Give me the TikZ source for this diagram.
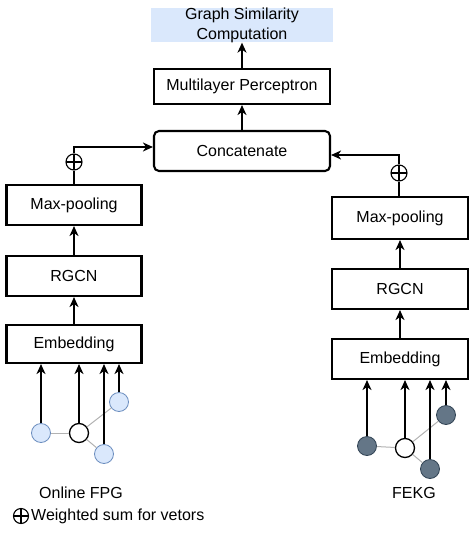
\documentclass[tikz,border=0pt]{standalone}
\usepackage{fontspec}
\setmainfont{Liberation Sans}
\usetikzlibrary{arrows.meta}
\definecolor{lblue}{HTML}{DAE8FC}
\definecolor{bblue}{HTML}{6C8EBF}
\definecolor{dslate}{HTML}{647687}
\definecolor{dslateb}{HTML}{314354}
\tikzset{
  blk/.style={draw, line width=2.1pt, font=\fontsize{16}{18}\selectfont, inner sep=0pt},
  conn/.style={line width=1.4pt, -{Stealth[length=10pt,width=9pt,inset=3pt]}},
  plainline/.style={line width=1.4pt},
  osum/.style={circle, draw, line width=1.1pt, minimum size=16pt, inner sep=0pt,
    path picture={\draw[line width=1.1pt] (path picture bounding box.north) -- (path picture bounding box.south)
      (path picture bounding box.west) -- (path picture bounding box.east);}},
  bnode/.style={circle, draw=bblue, fill=lblue, line width=0.8pt, minimum size=19pt, inner sep=0pt},
  dnode/.style={circle, draw=dslateb, fill=dslate, line width=0.8pt, minimum size=19pt, inner sep=0pt},
  wnode/.style={circle, draw=black, fill=white, line width=1.3pt, minimum size=19pt, inner sep=0pt},
  gedge/.style={draw=black!30, line width=1pt},
  lbl/.style={font=\fontsize{16}{18}\selectfont, inner sep=0pt},
}
\begin{document}
\begin{tikzpicture}[x=1pt,y=-1pt]
\useasboundingbox (0,0) rectangle (474,541);
% top
\node[fill=lblue, minimum width=182pt, minimum height=34pt, inner sep=0pt, align=center, font=\fontsize{16}{20}\selectfont] (gsc) at (242,25) {Graph Similarity\\Computation};
\node[blk, minimum width=176pt, minimum height=35pt] (mlp) at (242,86.5) {Multilayer Perceptron};
\node[blk, rounded corners=5pt, minimum width=176pt, minimum height=40pt] (cat) at (242,151) {Concatenate};
\draw[conn] (mlp.north) -- (gsc.south);
\draw[conn] (cat.north) -- (mlp.south);
% left column
\node[blk, minimum width=135pt, minimum height=40pt] (lmax) at (74,205) {Max-pooling};
\node[blk, minimum width=135pt, minimum height=40pt] (lrg) at (74,276) {RGCN};
\node[blk, minimum width=135pt, minimum height=38pt] (lemb) at (74,344) {Embedding};
\node[osum] (lsum) at (74,162) {};
\draw[conn] (lrg.north) -- (lmax.south);
\draw[conn] (lemb.north) -- (lrg.south);
\draw[plainline] (lmax.north -| lsum) -- (lsum.south);
\draw[conn] (lsum.north) |- (cat.west |- 0,147);
% right column
\node[blk, minimum width=136pt, minimum height=42pt] (rmax) at (400,218) {Max-pooling};
\node[blk, minimum width=136pt, minimum height=40pt] (rrg) at (400,289) {RGCN};
\node[blk, minimum width=136pt, minimum height=40pt] (remb) at (400,359) {Embedding};
\node[osum] (rsum) at (399,173) {};
\draw[conn] (rrg.north) -- (rmax.south);
\draw[conn] (remb.north) -- (rrg.south);
\draw[plainline] (rmax.north -| rsum) -- (rsum.south);
\draw[conn] (rsum.north) |- (cat.east |- 0,155);
% left graph
\node[bnode] (la) at (41,433) {};
\node[wnode] (lb) at (79,433) {};
\node[bnode] (lc) at (119,402) {};
\node[bnode] (ld) at (104,454) {};
\draw[gedge] (la) -- (lb);
\draw[gedge] (lb) -- (lc);
\draw[gedge] (lb) -- (ld);
\draw[conn] (la.north) -- (la.north |- lemb.south);
\draw[conn] (lb.north) -- (lb.north |- lemb.south);
\draw[conn] (ld.north) -- (ld.north |- lemb.south);
\draw[conn] (lc.north) -- (lc.north |- lemb.south);
% right graph
\node[dnode] (ra) at (367,446) {};
\node[wnode] (rb) at (405,448) {};
\node[dnode] (rc) at (446,415) {};
\node[dnode] (rd) at (430,469) {};
\draw[gedge] (ra) -- (rb);
\draw[gedge] (rb) -- (rc);
\draw[gedge] (rb) -- (rd);
\draw[conn] (ra.north) -- (ra.north |- remb.south);
\draw[conn] (rb.north) -- (rb.north |- remb.south);
\draw[conn] (rd.north) -- (rd.north |- remb.south);
\draw[conn] (rc.north) -- (rc.north |- remb.south);
% labels
\node[lbl] (lfpg) at (81,493) {Online FPG};
\node[lbl] (rfekg) at (414,493) {FEKG};
\node[osum, minimum size=15pt] (lgsum) at (21,516) {};
\node[lbl, anchor=west] (lgtxt) at (31,516) {Weighted sum for vetors};
\end{tikzpicture}
\end{document}
